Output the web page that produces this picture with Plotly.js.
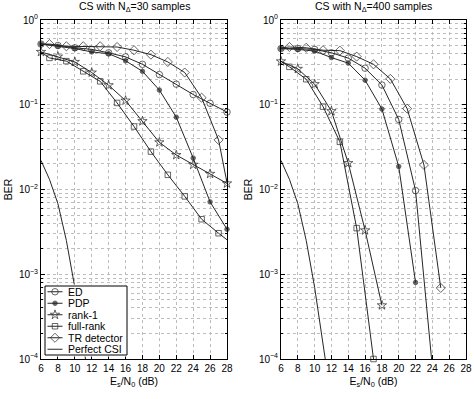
<!DOCTYPE html>
<html>
<head>
<meta charset="utf-8">
<script src="https://cdn.plot.ly/plotly-3.0.1.min.js"></script>
<style>html,body{margin:0;padding:0;background:#fff;}#chart{width:474px;height:399px;}</style>
</head>
<body>
<div id="chart"></div>
<script>
// ---------------- data ----------------
// Left panel: CS with N_Δ = 30 samples
const xLeftEven = [6, 8, 10, 12, 14, 16, 18, 20, 22, 24, 26, 28];
const xLeftOdd  = [6, 7, 9, 11, 13, 15, 17, 19, 21, 23, 25, 27, 28];
const berLeftED    = [0.52, 0.50, 0.47, 0.45, 0.41, 0.367, 0.30, 0.227, 0.175, 0.132, 0.104, 0.082];
const berLeftPDP   = [0.52, 0.49, 0.46, 0.42, 0.40, 0.33, 0.248, 0.149, 0.0714, 0.0235, 0.00714, 0.0034];
const berLeftRank1 = [0.42, 0.37, 0.32, 0.24, 0.17, 0.112, 0.064, 0.036, 0.0255, 0.0196, 0.0153, 0.0118];
const berLeftFull  = [0.42, 0.357, 0.327, 0.248, 0.189, 0.105, 0.0554, 0.028, 0.0149, 0.0083, 0.00446, 0.00305, 0.00255];
const berLeftTR    = [0.52, 0.52, 0.49, 0.49, 0.49, 0.48, 0.44, 0.39, 0.32, 0.24, 0.121, 0.0385, 0.012];

// Right panel: CS with N_Δ = 400 samples
const xRightED    = [6, 8, 10, 12, 14, 16, 18, 20, 22, 24];
const berRightED  = [0.46, 0.46, 0.45, 0.41, 0.355, 0.27, 0.171, 0.067, 0.0097, 0.00008];
const xRightPDP   = [6, 8, 10, 12, 14, 16, 18, 20, 22];
const berRightPDP = [0.46, 0.45, 0.43, 0.36, 0.31, 0.195, 0.089, 0.0187, 0.0008];
const xRightRank1   = [6, 8, 10, 12, 14, 16, 18];
const berRightRank1 = [0.325, 0.265, 0.175, 0.084, 0.0205, 0.0033, 0.00043];
const xRightFull   = [6, 7, 9, 11, 13, 15, 17];
const berRightFull = [0.325, 0.28, 0.2, 0.095, 0.0365, 0.0035, 0.0001];
const xRightTR   = [6, 7, 9, 11, 13, 15, 17, 19, 21, 23, 25];
const berRightTR = [0.47, 0.48, 0.47, 0.44, 0.435, 0.37, 0.30, 0.202, 0.09, 0.0195, 0.00069];

// Perfect CSI (same in both panels)
const xCSI   = [6, 7, 8, 9, 10, 11, 12];
const berCSI = [0.022, 0.0132, 0.0068, 0.0025, 0.0007, 0.00016, 0.000032];

const seriesNames = ['ED', 'PDP', 'rank-1', 'full-rank', 'TR detector', 'Perfect CSI'];
const xTickVals = [6, 8, 10, 12, 14, 16, 18, 20, 22, 24, 26, 28];
const yTickVals = [1, 0.1, 0.01, 0.001, 0.0001];
const yTickText = ['10<sup>0</sup>', '10<sup>\u22121</sup>', '10<sup>\u22122</sup>', '10<sup>\u22123</sup>', '10<sup>\u22124</sup>'];
const panelTitles = ['CS with N<sub>\u0394</sub>=30 samples', 'CS with N<sub>\u0394</sub>=400 samples'];

// ---------------- styles ----------------
const FONT = 'Liberation Sans, Arial, Helvetica, sans-serif';
const LINE = '#262626';
const GRID = '#bdbdbd';
const styles = {
  'ED':          {symbol: 'circle-open',  size: 6.5, parity: 0},
  'PDP':         {symbol: 'circle',       size: 4.5, parity: 0},
  'rank-1':      {symbol: 'star-open',    size: 7, parity: 0},
  'full-rank':   {symbol: 'square-open',  size: 5.5, parity: 1},
  'TR detector': {symbol: 'diamond-open', size: 7, parity: 1},
  'Perfect CSI': {symbol: null, size: 0, parity: -1}
};

function seriesTrace(name, xs, ys, xa, ya) {
  const st = styles[name];
  const tr = {
    type: 'scatter', name: name, x: xs, y: ys, xaxis: xa, yaxis: ya,
    line: {color: LINE, width: 1}, showlegend: false, cliponaxis: false, hoverinfo: 'x+y+name'
  };
  if (st.symbol) {
    tr.mode = 'lines+markers';
    tr.marker = {
      symbol: st.symbol, color: LINE, line: {color: LINE, width: 1},
      size: xs.map((x, i) => (x % 2 === st.parity && ys[i] >= 1e-4 - 1e-12) ? st.size : 0)
    };
  } else {
    tr.mode = 'lines';
  }
  return tr;
}

const traces = [
  seriesTrace('ED', xLeftEven, berLeftED, 'x', 'y'),
  seriesTrace('PDP', xLeftEven, berLeftPDP, 'x', 'y'),
  seriesTrace('rank-1', xLeftEven, berLeftRank1, 'x', 'y'),
  seriesTrace('full-rank', xLeftOdd, berLeftFull, 'x', 'y'),
  seriesTrace('TR detector', xLeftOdd, berLeftTR, 'x', 'y'),
  seriesTrace('Perfect CSI', xCSI, berCSI, 'x', 'y'),
  seriesTrace('ED', xRightED, berRightED, 'x2', 'y2'),
  seriesTrace('PDP', xRightPDP, berRightPDP, 'x2', 'y2'),
  seriesTrace('rank-1', xRightRank1, berRightRank1, 'x2', 'y2'),
  seriesTrace('full-rank', xRightFull, berRightFull, 'x2', 'y2'),
  seriesTrace('TR detector', xRightTR, berRightTR, 'x2', 'y2'),
  seriesTrace('Perfect CSI', xCSI, berCSI, 'x2', 'y2')
];

// ---------------- geometry (pixels) ----------------
const W = 474, H = 399;
const plotTop = 20, plotBottom = 359;
const leftPanel = [41, 227], rightPanel = [281, 466];
const legBox = {x0: 45, x1: 127, y0: 286, y1: 355};
const legRow = (legBox.y1 - legBox.y0) / seriesNames.length;
const legSample = {x0: 47.5, x1: 62.5, text: 66};

// legend drawn in its own small overlay subplot (pixel units)
const legPad = 1.5;
traces.push({
  type: 'scatter', mode: 'lines', xaxis: 'x3', yaxis: 'y3', showlegend: false, hoverinfo: 'skip',
  x: [legBox.x0, legBox.x1, legBox.x1, legBox.x0, legBox.x0],
  y: [legBox.y0, legBox.y0, legBox.y1, legBox.y1, legBox.y0],
  fill: 'toself', fillcolor: '#ffffff', line: {color: '#000', width: 1}
});
const annotations = [];
seriesNames.forEach((name, i) => {
  const st = styles[name];
  const cy = legBox.y0 + legRow * (i + 0.5);
  const cx = (legSample.x0 + legSample.x1) / 2;
  const t = {
    type: 'scatter', xaxis: 'x3', yaxis: 'y3', showlegend: false, hoverinfo: 'skip',
    x: [legSample.x0, cx, legSample.x1], y: [cy, cy, cy],
    line: {color: LINE, width: 1}
  };
  if (st.symbol) {
    t.mode = 'lines+markers';
    t.marker = {symbol: st.symbol, color: LINE, line: {color: LINE, width: 1}, size: [0, st.size, 0]};
  } else t.mode = 'lines';
  traces.push(t);
  annotations.push({
    xref: 'paper', yref: 'paper', x: legSample.text / W, y: 1 - cy / H,
    xanchor: 'left', yanchor: 'middle', showarrow: false, text: name,
    font: {family: FONT, size: 10.5, color: '#000'}
  });
});

panelTitles.forEach((txt, i) => {
  const p = i === 0 ? leftPanel : rightPanel;
  annotations.push({
    xref: 'paper', yref: 'paper', x: (p[0] + p[1]) / 2 / W, y: 1 - 7 / H,
    xanchor: 'center', yanchor: 'middle', showarrow: false, text: txt,
    font: {family: FONT, size: 10.5, color: '#000'}
  });
});

const minorVals = [];
for (let e = -4; e < 0; e++) for (let d = 2; d <= 9; d++) minorVals.push(d * Math.pow(10, e));

function xAxis(dom) {
  return {
    domain: [dom[0] / W, dom[1] / W], range: [6, 28], tickmode: 'array', tickvals: xTickVals,
    ticks: 'inside', ticklen: 4, tickcolor: '#000', showline: true, linecolor: '#000', linewidth: 1,
    mirror: 'ticks', showgrid: true, gridcolor: GRID, griddash: 'dot', gridwidth: 1, zeroline: false,
    tickfont: {family: FONT, size: 10, color: '#000'},
    title: {text: 'E<sub>s</sub>/N<sub>0</sub> (dB)', font: {family: FONT, size: 10.5, color: '#000'}, standoff: 4},
    automargin: false, fixedrange: true
  };
}
function yAxis(anchor) {
  return {
    anchor: anchor, type: 'log', domain: [1 - plotBottom / H, 1 - plotTop / H], range: [-4, 0],
    tickmode: 'array', tickvals: yTickVals, ticktext: yTickText,
    ticks: 'inside', ticklen: 4, tickcolor: '#000', showline: true, linecolor: '#000', linewidth: 1,
    mirror: 'ticks', showgrid: true, gridcolor: GRID, griddash: 'dot', gridwidth: 1, zeroline: false,
    minor: {tickmode: 'array', tickvals: minorVals, ticks: 'inside', ticklen: 2, tickcolor: '#000',
            showgrid: true, gridcolor: GRID, griddash: 'dot', gridwidth: 1},
    tickfont: {family: FONT, size: 10, color: '#000'},
    title: {text: 'BER', font: {family: FONT, size: 10.5, color: '#000'}, standoff: 4},
    automargin: false, fixedrange: true
  };
}

const layout = {
  width: W, height: H, margin: {l: 0, r: 0, t: 0, b: 0},
  paper_bgcolor: '#fff', plot_bgcolor: '#fff', showlegend: false,
  xaxis: Object.assign(xAxis(leftPanel), {anchor: 'y'}),
  yaxis: yAxis('x'),
  xaxis2: Object.assign(xAxis(rightPanel), {anchor: 'y2'}),
  yaxis2: yAxis('x2'),
  xaxis3: {domain: [(legBox.x0 - legPad) / W, (legBox.x1 + legPad) / W], range: [legBox.x0 - legPad, legBox.x1 + legPad],
           visible: false, anchor: 'y3', fixedrange: true},
  yaxis3: {domain: [1 - (legBox.y1 + legPad) / H, 1 - (legBox.y0 - legPad) / H], range: [legBox.y1 + legPad, legBox.y0 - legPad],
           visible: false, anchor: 'x3', fixedrange: true},
  annotations: annotations
};

Plotly.newPlot('chart', traces, layout, {displayModeBar: false, staticPlot: true});
</script>
</body>
</html>
